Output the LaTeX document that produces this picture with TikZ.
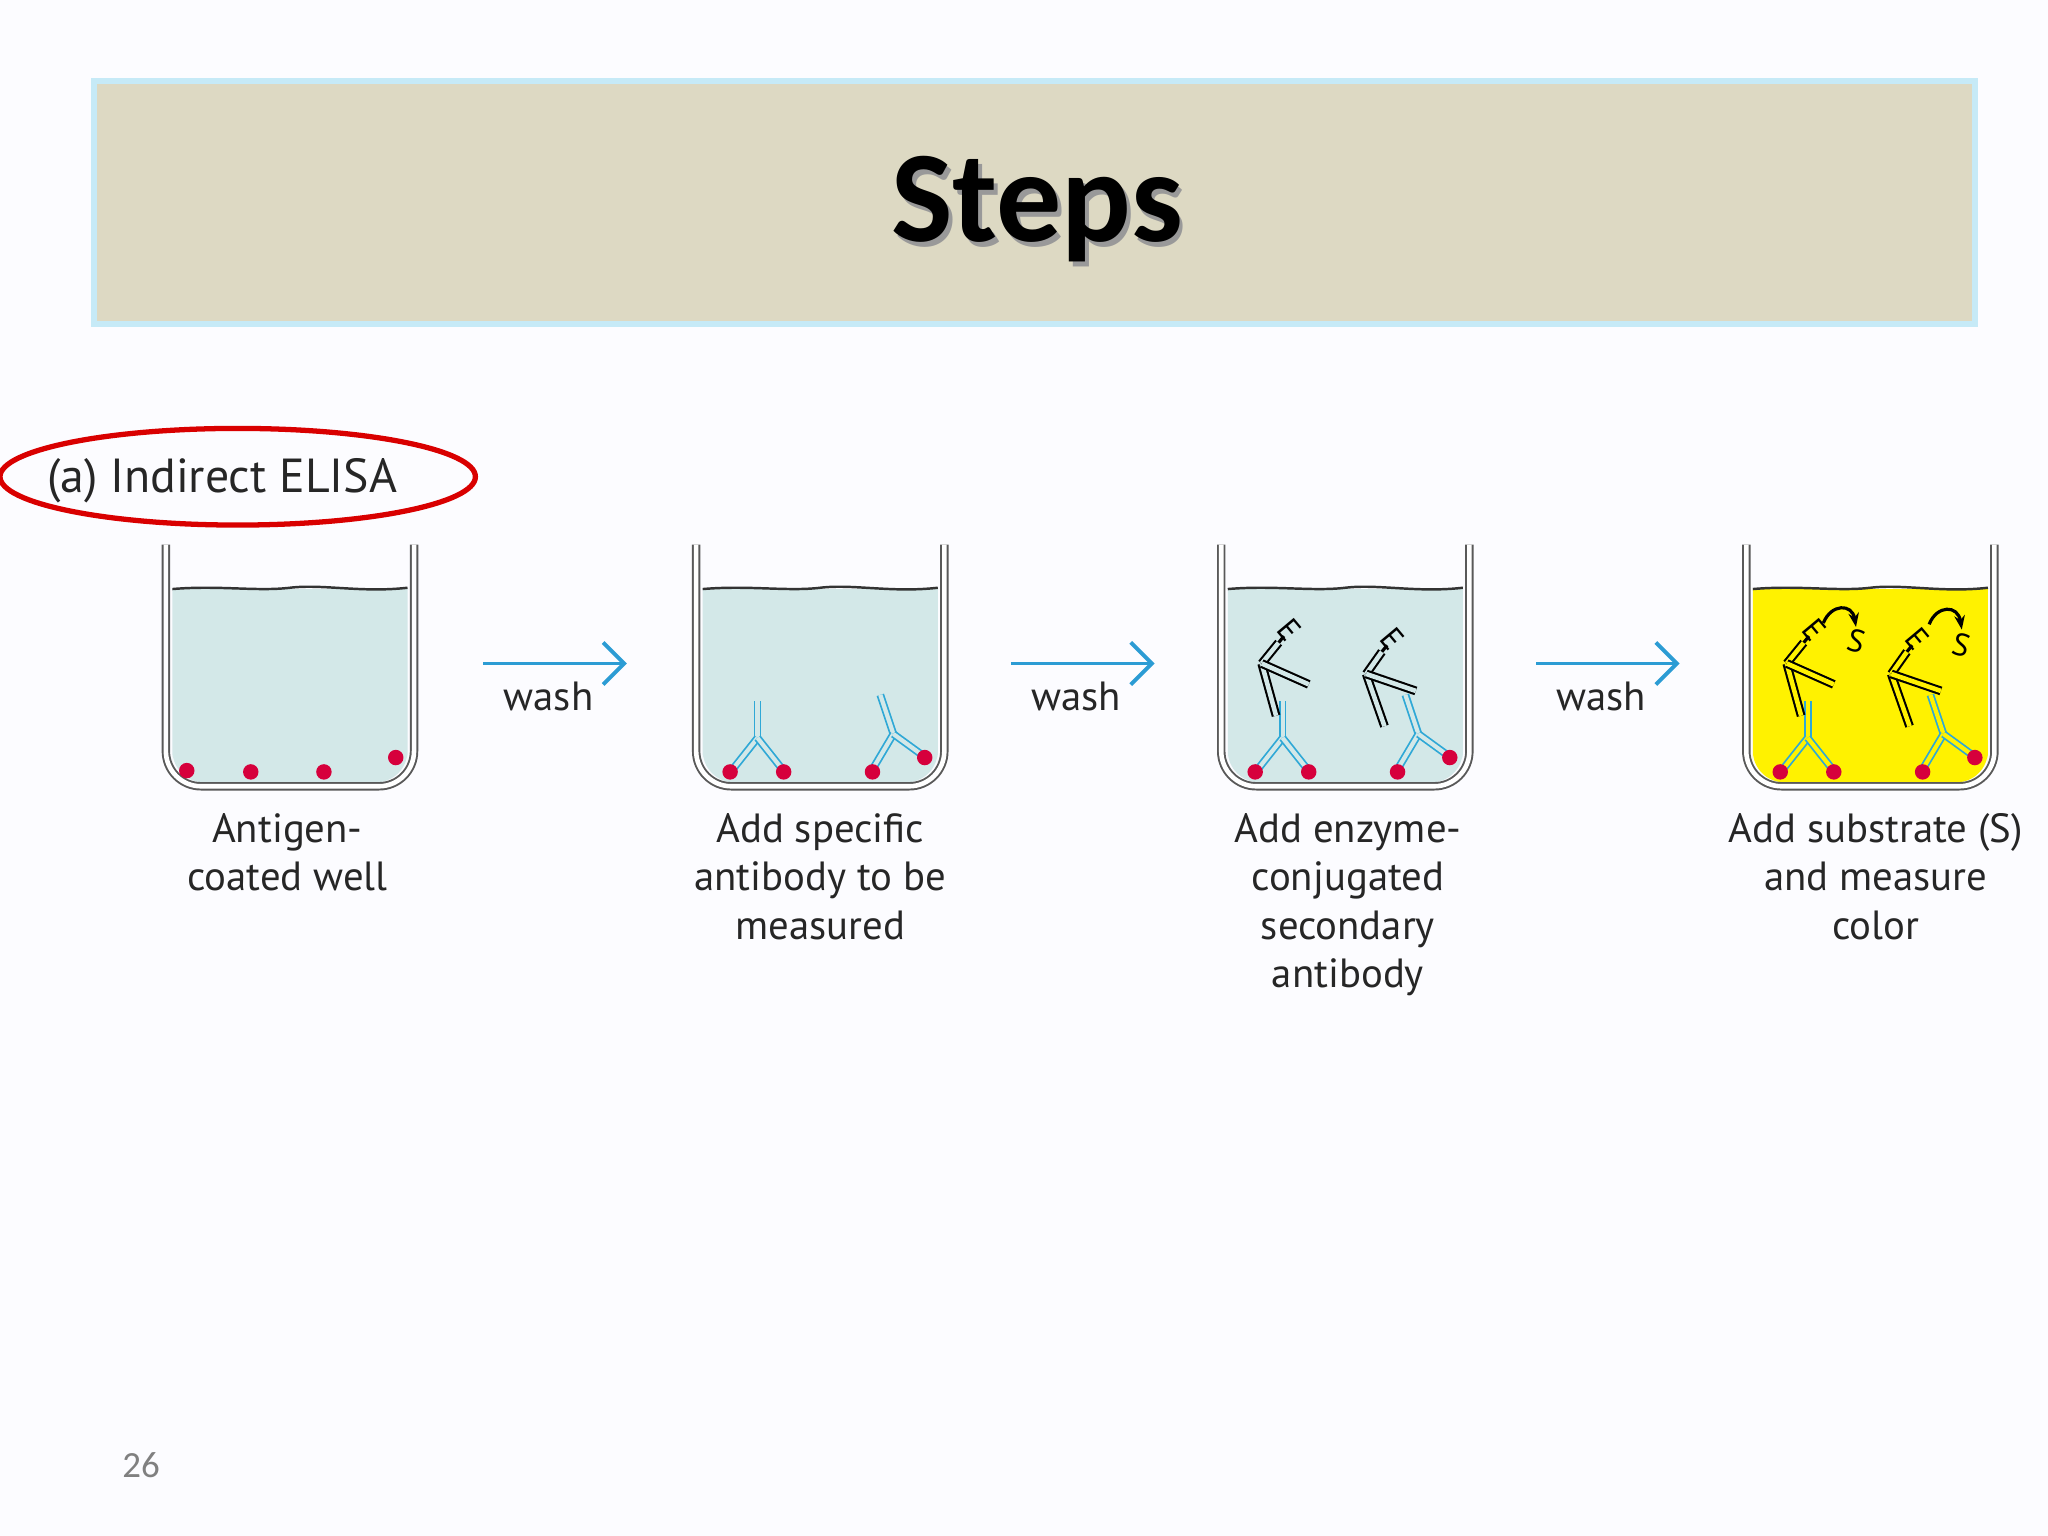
\documentclass[tikz,border=0pt]{standalone}
\usepackage{fontspec}
\setmainfont{PT Sans}
\newfontfamily\titlefont{Carlito}
\usetikzlibrary{arrows.meta}
\definecolor{banner}{HTML}{DDD9C3}
\definecolor{bannerline}{HTML}{C6EAF7}
\definecolor{water}{HTML}{D3E8E8}
\definecolor{yel}{HTML}{FFF200}
\definecolor{abblue}{HTML}{2FA8D6}
\definecolor{arrblue}{HTML}{2C9CD4}
\definecolor{antigen}{HTML}{D6003C}
\tikzset{
  wellwall/.style={draw=black!65, double=white, double distance=1.3pt, line width=0.55pt, rounded corners=10},
  surface/.style={draw=black!80, line width=0.7pt},
  abb/.style={draw=abblue, double=#1, double distance=1.2pt, line width=0.5pt},
  abk/.style={draw=black, double=#1, double distance=1.3pt, line width=0.6pt},
  dot/.style={circle, fill=antigen, inner sep=0pt, minimum size=4.4pt},
  washarrow/.style={draw=arrblue, line width=1.1pt, -{Straight Barb[length=6pt,width=12pt]}},
  lbl/.style={font=\fontsize{11.6}{13.8}\selectfont, align=center, text=black!85},
  washlbl/.style={font=\fontsize{11.6}{14}\selectfont, text=black!85},
}
\newcommand{\mywell}[2]{%
  \fill[#2] (#1+5,451) -- (#1+5,590) [rounded corners=9] -- (#1+5,599) -- (#1+185,599) [sharp corners] -- (#1+185,590) -- (#1+185,451) -- cycle;
  \draw[surface] (#1+5,451) .. controls (#1+40,448) and (#1+70,453) .. (#1+95,450) .. controls (#1+120,447) and (#1+150,454) .. (#1+185,450);
  \draw[wellwall] (#1,417) -- (#1,602) -- (#1+190,602) -- (#1+190,417);
}
\newcommand{\myab}[5]{%
  \draw[#1] (#3) -- (#2);
  \draw[#1] (#2) -- (#4);
  \draw[#1] (#2) -- (#5);
}
\begin{document}
\begin{tikzpicture}[x=0.01306cm, y=-0.01306cm]
\useasboundingbox (0,0) rectangle (1568,1176);
\fill[white!99!blue] (0,0) rectangle (1568,1176);
\node[draw=bannerline, line width=1.8pt, fill=banner, minimum width={1440*0.01306cm}, minimum height={186*0.01306cm}, inner sep=0pt] (banner) at (792,155) {};
\node[font=\titlefont\bfseries\fontsize{37}{40}\selectfont, text=black!40] at (797,164) {Steps};
\node[font=\titlefont\bfseries\fontsize{37}{40}\selectfont] (title) at (794,160) {Steps};
\draw[red!85!black, line width=1.5pt] (182,365) ellipse [x radius=182, y radius=37];
\node[font=\fontsize{13.6}{16}\selectfont, text=black!85] (head) at (170,368) {(a) Indirect ELISA};
\mywell{127}{water}
\mywell{533}{water}
\mywell{935}{water}
\mywell{1337}{yel}
\foreach \x/\y in {143/590,192/591,248/591,303/580} \node[dot] at (\x,\y) {};
\foreach \s/\f in {0/water,402/water,804/yel} {
  \begin{scope}[shift={(\s,0)}]
    \myab{abb=\f}{580,565}{580,537}{561,589}{599,589}
    \myab{abb=\f}{684,562}{674,532}{668,589}{706,578}
    \foreach \x/\y in {559/591,600/591,668/591,708/580} \node[dot] at (\x,\y) {};
  \end{scope}
}
\foreach \s/\f in {0/water,402/yel} {
  \begin{scope}[shift={(\s,0)}]
    \myab{abk=\f}{966,508}{979,492}{977,548}{1002,524}
    \draw[black, line width=0.9pt] (979,492) -- (983,487);
    \node[font=\fontsize{9}{9}\selectfont, rotate=-50] at (987,482) {E};
    \myab{abk=\f}{1046,516}{1058,499}{1060,556}{1084,529}
    \draw[black, line width=0.9pt] (1058,499) -- (1062,494);
    \node[font=\fontsize{9}{9}\selectfont, rotate=-50] at (1066,489) {E};
  \end{scope}
}
\draw[black, line width=0.9pt, -{Stealth[length=4pt]}] (1396,477) .. controls (1402,462) and (1418,462) .. (1421,480);
\node[font=\fontsize{9}{9}\selectfont, rotate=-15] at (1421,491) {S};
\draw[black, line width=0.9pt, -{Stealth[length=4pt]}] (1477,478) .. controls (1483,463) and (1499,463) .. (1502,482);
\node[font=\fontsize{9}{9}\selectfont, rotate=-15] at (1502,494) {S};
\foreach \i/\x in {1/370,2/774,3/1176} {
  \coordinate (a\i s) at (\x,508);
  \coordinate (a\i e) at (\x+110,508);
  \draw[washarrow] (a\i s) -- (a\i e);
  \node[washlbl] (w\i) at (\x+50,533) {wash};
}
\node[lbl, anchor=north] (l1) at (220,613) {Antigen-\\coated well};
\node[lbl, anchor=north] (l2) at (628,613) {Add specific\\antibody to be\\measured};
\node[lbl, anchor=north] (l3) at (1032,613) {Add enzyme-\\conjugated\\secondary\\antibody};
\node[lbl, anchor=north] (l4) at (1436,613) {Add substrate (S)\\and measure\\color};
\node[font=\titlefont\fontsize{10.5}{12}\selectfont, text=black!50] (pg) at (108,1122) {26};
\end{tikzpicture}
\end{document}
